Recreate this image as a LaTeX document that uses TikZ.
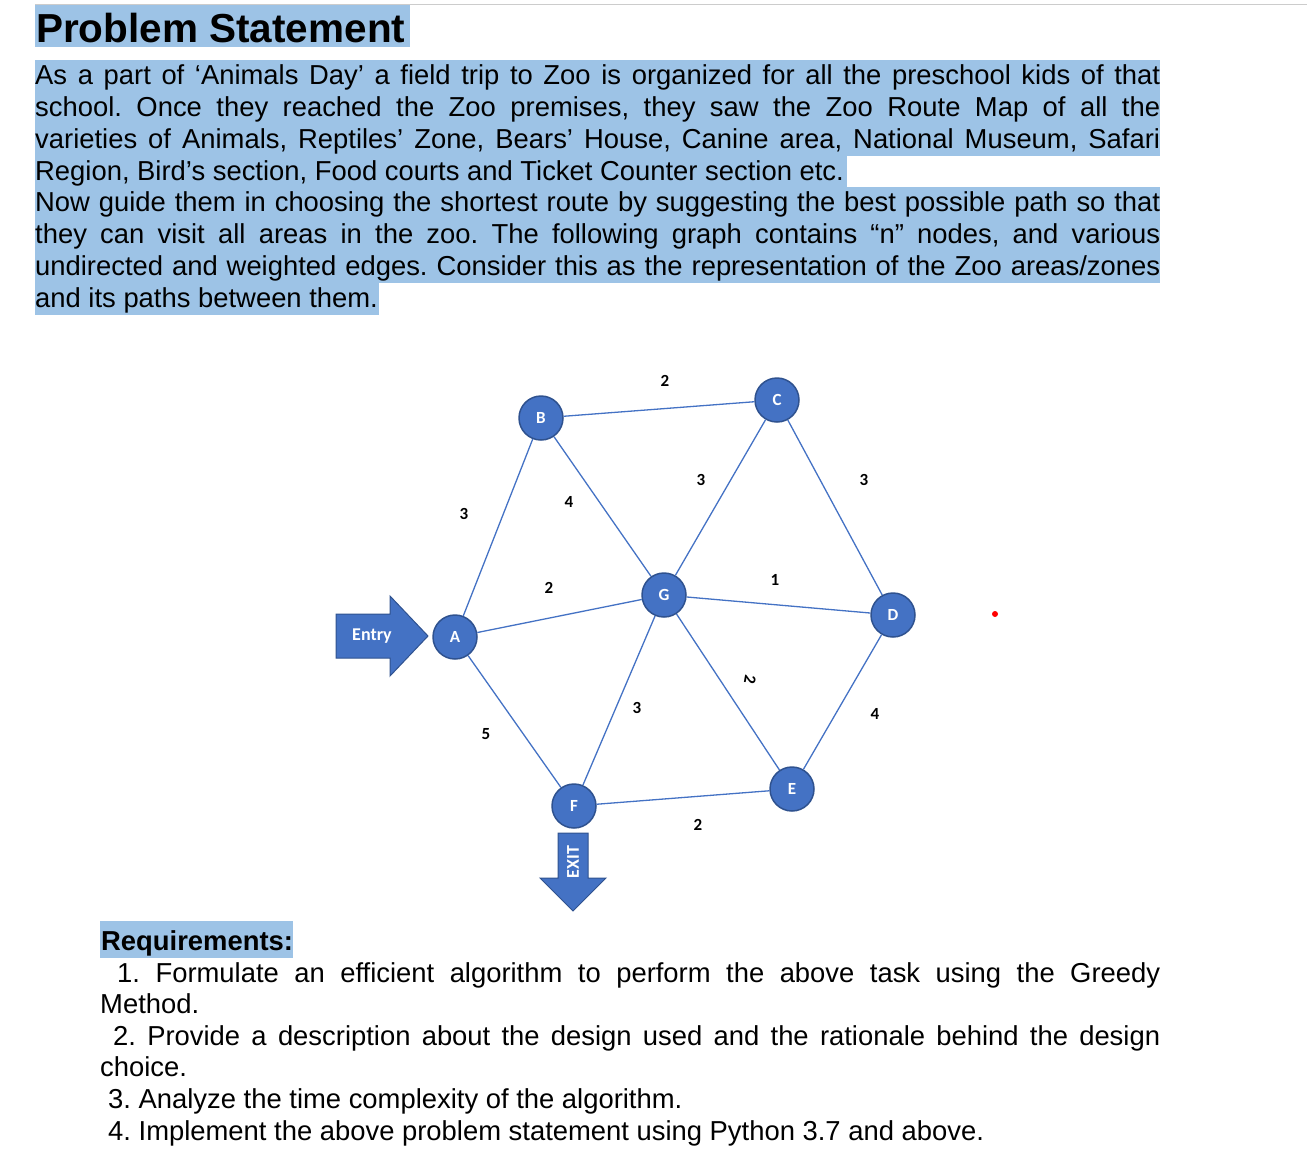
\documentclass[tikz,border=0pt]{standalone}
\usepackage{fontspec}
\setmainfont{Liberation Sans}
\newfontfamily\lblfont{Carlito}
\definecolor{hl}{HTML}{9DC3E6}
\definecolor{nfill}{HTML}{4472C4}
\definecolor{nbord}{HTML}{2F528F}
\frenchspacing
\begin{document}
\begin{tikzpicture}[x=1pt,y=-1pt,
  vtx/.style={circle,fill=nfill,draw=nbord,line width=1.5pt,minimum size=44pt,inner sep=0pt,text=white,font=\lblfont\bfseries\fontsize{17}{17}\selectfont},
  edge/.style={draw=nfill,line width=1.3pt},
  wt/.style={font=\lblfont\bfseries\fontsize{17}{17}\selectfont},
  arr/.style={fill=nfill,draw=nbord,line width=1pt},
  arrtxt/.style={text=white,font=\lblfont\bfseries\fontsize{18}{18}\selectfont},
  ln/.style={anchor=base west,inner sep=0pt,font=\fontsize{27.4}{32}\selectfont}]
\useasboundingbox (0,0) rectangle (1307,1168);
\draw[gray!40,line width=1pt] (35,4) -- (1307,4);
% highlights
\fill[hl] (35,5) rectangle (410,47);
\foreach \b in {84,116,148,211,243,275} {\fill[hl] (35,\b-24) rectangle (1160,\b+8);}
\fill[hl] (35,180-24) rectangle (847,180+8);
\fill[hl] (35,307-24) rectangle (379,307+8);
\fill[hl] (100,921) rectangle (293,958);
\node[anchor=base west,inner sep=0pt,font=\bfseries\fontsize{40.5}{44}\selectfont] (title) at (36,42) {Problem Statement};
\node[ln] (l1) at (35,84) {\makebox[1125pt][s]{As a part of ‘Animals Day’ a field trip to Zoo is organized for all the preschool kids of that}};
\node[ln] (l2) at (35,116) {\makebox[1125pt][s]{school. Once they reached the Zoo premises, they saw the Zoo Route Map of all the}};
\node[ln] (l3) at (35,148) {\makebox[1125pt][s]{varieties of Animals, Reptiles’ Zone, Bears’ House, Canine area, National Museum, Safari}};
\node[ln] (l4) at (35,180) {Region, Bird’s section, Food courts and Ticket Counter section etc.};
\node[ln] (l5) at (35,211) {\makebox[1125pt][s]{Now guide them in choosing the shortest route by suggesting the best possible path so that}};
\node[ln] (l6) at (35,243) {\makebox[1125pt][s]{they can visit all areas in the zoo. The following graph contains “n” nodes, and various}};
\node[ln] (l7) at (35,275) {\makebox[1125pt][s]{undirected and weighted edges. Consider this as the representation of the Zoo areas/zones}};
\node[ln] (l8) at (35,307) {and its paths between them.};
% graph
\node[vtx] (B) at (541,418) {B};
\node[vtx] (C) at (777,400) {C};
\node[vtx] (G) at (664,595) {G};
\node[vtx] (D) at (893,615) {D};
\node[vtx] (A) at (455,637) {A};
\node[vtx] (F) at (574,806) {F};
\node[vtx] (E) at (792,789) {E};
\foreach \u/\v in {A/B,B/C,B/G,C/G,C/D,A/G,G/D,A/F,G/F,G/E,D/E,F/E} \draw[edge] (\u) -- (\v);
\node[wt] at (665,381) {2};
\node[wt] at (701,480) {3};
\node[wt] at (864,480) {3};
\node[wt] at (569,502) {4};
\node[wt] at (464,514) {3};
\node[wt] at (549,588) {2};
\node[wt] at (775,580) {1};
\node[wt,rotate=-100] at (750,680) {2};
\node[wt] at (637,708) {3};
\node[wt] at (875,714) {4};
\node[wt] at (486,734) {5};
\node[wt] at (698,825) {2};
\draw[arr] (336,614) -- (390,614) -- (390,596) -- (428,636) -- (390,676) -- (390,658) -- (336,658) -- cycle;
\node[arrtxt] (entry) at (372,636) {Entry};
\draw[arr] (558,833) -- (588,833) -- (588,878) -- (606,878) -- (573,911) -- (540,878) -- (558,878) -- cycle;
\node[arrtxt,rotate=90] (exit) at (573,862) {EXIT};
\fill[red] (995,614) circle (3);
% requirements
\node[ln,font=\bfseries\fontsize{27.4}{32}\selectfont] (req) at (101,950) {Requirements:};
\node[ln] (r1) at (100,982) {\makebox[1060pt][s]{\hspace*{17pt}1.\ Formulate an efficient algorithm to perform the above task using the Greedy}};
\node[ln] (r1b) at (100,1013) {Method.};
\node[ln] (r2) at (100,1045) {\makebox[1060pt][s]{\hspace*{13pt}2.\ Provide a description about the design used and the rationale behind the design}};
\node[ln] (r2b) at (100,1076) {choice.};
\node[ln] (r3) at (108,1108) {3. Analyze the time complexity of the algorithm.};
\node[ln] (r4) at (108,1140) {4. Implement the above problem statement using Python 3.7 and above.};
\end{tikzpicture}
\end{document}
